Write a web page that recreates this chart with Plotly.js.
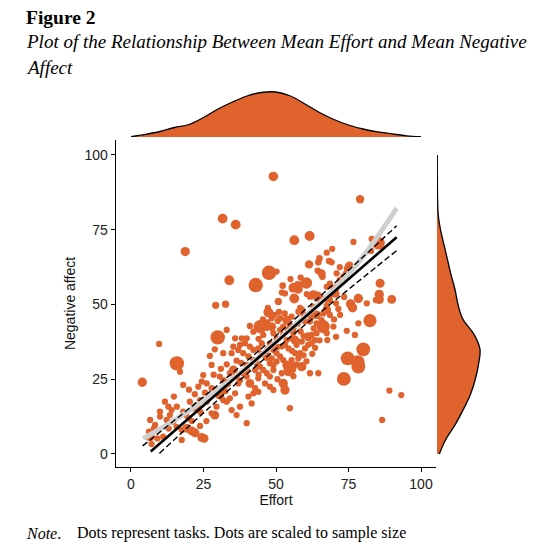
<!DOCTYPE html>
<html>
<head>
<meta charset="utf-8">
<script src="https://cdn.plot.ly/plotly-3.0.1.min.js"></script>
<style>
  html, body { margin: 0; padding: 0; background: #ffffff; }
  #chart { width: 556px; height: 548px; }
</style>
</head>
<body>
<div id="chart"></div>
<script>
// ---------- Data ----------
const effort = [49.1,79.0,31.6,36.1,18.7,56.3,61.6,76.7,83.0,85.3,82.8,69.4,67.5,65.0,64.6,61.4,68.3,69.2,72.0,75.3,
74.9,64.4,65.7,66.0,47.6,50.2,33.9,43.0,52.3,56.0,57.6,60.5,52.0,56.3,50.8,60.6,62.9,64.3,65.2,67.5,
68.4,69.8,70.9,72.0,73.2,74.1,70.7,78.4,75.7,76.4,85.9,85.6,85.6,84.5,89.9,29.2,32.6,47.2,58.3,62.9,
67.5,57.7,53.1,61.7,67.5,68.6,70.4,70.9,47.4,50.6,51.4,52.5,53.7,54.8,55.4,57.7,58.9,61.7,64.0,66.3,
68.6,61.7,64.0,65.8,66.3,67.5,67.7,59.2,60.0,48.5,49.1,50.2,51.4,52.5,53.7,53.1,54.3,55.4,56.6,57.1,
58.9,60.0,61.1,63.4,64.0,62.3,61.1,47.9,49.1,50.2,51.4,52.5,46.8,47.9,49.1,50.2,53.7,54.8,54.3,58.9,
61.7,64.6,56.6,57.7,55.4,45.6,45.1,43.9,41.0,42.2,43.4,44.5,46.8,46.8,48.5,39.9,38.2,35.9,37.6,35.3,
39.3,41.0,42.2,29.9,33.0,28.9,31.8,34.7,37.0,38.7,40.5,42.2,43.4,44.5,42.8,45.6,46.8,47.9,46.2,47.9,
49.1,52.5,53.1,54.8,15.8,16.9,27.2,27.8,24.9,18.0,23.2,24.4,26.1,27.8,29.5,30.6,31.8,33.0,34.1,35.3,
36.4,37.6,37.0,38.7,39.9,41.0,42.8,43.9,40.5,42.2,41.6,35.9,34.1,33.0,30.6,31.8,27.2,26.1,23.8,22.6,
20.3,21.5,14.8,15.8,29.5,27.8,34.7,36.4,37.6,43.9,49.1,36.4,39.9,28.9,3.9,9.7,6.6,6.2,7.9,7.1,
10.0,10.0,12.3,13.4,14.0,14.6,15.7,17.5,19.2,20.9,22.1,17.5,24.4,25.2,19.8,23.8,11.7,12.9,18.0,6.6,
8.3,9.1,11.1,39.9,86.6,89.1,93.2,73.4,74.7,80.1,78.2,78.4,82.4,78.4,77.2,74.4,72.1,67.5,68.6,65.7,
58.3,62.3,66.3,70.7,69.8,81.3,45.5,47.0,49.5,51.0,53.0,56.0,57.5,58.5,59.5,56.0,54.0,52.0,50.5,48.5,
47.0,45.0,44.0,55.5,57.0,59.5,62.5,63.5,60.5,52.0,50.5,56.0,44.0,40.0,38.0,33.0,31.0,32.5,28.5,25.5,
22.0,20.0,19.0,21.0,13.0,26.0,24.0,62.0,63.0,65.0,70.0,71.5,73.5,58.5,55.0];

const negativeAffect = [92.8,85.2,78.7,76.7,67.7,71.5,72.9,70.9,71.9,70.5,67.9,68.6,67.3,65.4,64.1,63.4,64.5,64.1,62.5,62.9,
62.0,61.3,60.4,59.3,60.6,61.0,58.1,56.5,56.3,55.6,56.2,57.2,54.0,52.0,51.0,53.5,53.2,52.8,52.0,51.7,
52.8,55.4,56.0,58.2,59.3,60.4,50.4,52.0,50.2,48.9,57.1,53.4,51.7,51.5,51.7,49.7,50.1,48.9,48.9,49.3,
49.6,55.1,53.7,52.6,55.9,57.0,53.7,60.4,47.3,44.5,45.4,42.6,44.8,43.1,45.9,47.6,48.4,47.0,46.5,47.0,
51.5,44.3,43.7,42.0,42.6,40.4,38.1,47.0,44.3,42.6,40.4,38.7,41.5,39.8,38.1,36.5,35.3,38.7,38.1,36.5,
37.6,35.3,36.5,38.1,40.4,39.8,39.2,37.0,34.8,33.7,32.6,31.4,32.6,30.3,29.8,30.9,29.8,28.7,27.5,29.2,
27.0,27.0,33.7,32.0,31.4,39.8,37.0,35.3,42.8,40.9,42.0,42.6,42.6,47.6,45.4,38.7,38.7,38.7,36.5,35.9,
37.0,35.9,34.8,39.0,41.5,35.0,33.7,33.7,34.8,33.7,32.6,31.4,30.3,29.2,28.1,28.1,27.0,25.9,23.6,22.5,
21.4,23.6,21.4,15.3,30.3,27.5,32.8,29.8,26.4,23.1,22.5,24.2,23.6,22.0,21.4,25.9,24.7,23.6,27.0,28.1,
25.9,24.7,23.6,27.0,25.9,23.6,22.0,20.8,19.2,20.3,16.9,20.3,18.6,17.5,19.7,18.0,19.2,17.5,18.0,15.8,
17.5,15.3,19.2,15.8,15.8,13.6,14.7,13.0,15.8,25.3,28.1,31.2,29.8,13.0,24.0,36.8,5.8,7.5,8.6,3.3,
14.2,12.5,11.4,13.0,14.7,10.8,9.1,8.0,8.6,7.7,7.1,4.7,5.5,5.2,11.9,9.4,17.5,15.8,14.2,11.4,
9.7,5.2,5.8,10.3,11.4,21.2,19.7,25.1,32.0,35.0,30.7,29.2,44.6,43.7,39.8,41.2,46.5,48.2,46.5,44.8,
33.7,37.0,43.7,39.2,42.6,50.4,45.0,44.0,46.5,47.5,47.0,42.0,43.5,41.0,39.5,40.5,41.5,36.0,35.8,32.0,
35.0,33.5,38.5,34.5,30.0,33.0,33.5,35.5,31.0,27.0,25.0,26.0,26.5,28.0,30.5,30.0,28.5,21.0,26.5,20.5,
20.0,21.5,13.0,11.0,8.5,11.0,14.0,45.5,42.0,38.0,45.0,48.5,52.5,59.0,58.5];

const sampleSize = [105,80,110,110,100,110,115,45,45,190,45,45,45,50,50,80,50,45,45,90,
90,50,80,50,240,45,110,240,50,110,110,150,45,110,60,45,100,100,100,50,
50,45,45,45,45,45,45,100,100,100,95,100,100,50,90,60,60,45,45,45,
45,90,45,45,45,45,90,45,110,45,45,45,90,45,45,45,45,45,90,45,
45,45,45,45,200,45,45,45,45,90,45,45,45,45,45,45,45,45,90,45,
45,45,45,45,45,45,90,45,45,45,45,45,90,45,45,45,90,200,90,100,
45,45,45,45,45,45,45,45,45,45,45,200,90,45,45,45,45,45,45,45,
45,45,45,240,45,45,45,45,45,45,45,45,45,45,45,45,45,45,45,45,
45,100,100,45,240,45,45,45,45,45,45,45,45,45,45,45,45,90,45,90,
45,45,45,45,45,90,45,45,45,45,45,45,45,45,90,45,45,45,45,90,
45,45,45,45,45,45,45,45,45,45,45,45,45,90,100,45,100,45,45,45,
45,45,45,45,45,45,45,45,90,90,90,45,90,90,45,45,45,45,45,45,
45,45,45,45,45,45,45,220,220,220,220,220,200,45,45,45,45,90,45,45,
45,45,45,45,45,45,45,45,45,45,45,45,45,45,45,45,45,45,45,45,
45,45,45,45,45,45,45,45,45,45,45,45,45,45,45,45,45,45,45,45,
45,45,45,45,45,45,45,45,45,45,45,45,45,45,45];

// Linear fit and its interval, and the smooth (grey) curve
const fitEffort = [6.8, 91.6];
const fitNegAffect = [0.8, 72.5];
const upperEffort = [4.0, 45.0, 91.6];
const upperNegAffect = [2.7, 35.3, 76.3];
const lowerEffort = [9.8, 45.0, 91.6];
const lowerNegAffect = [0.2, 31.0, 68.0];
const smoothEffort = [4.2, 12, 20, 30, 40, 50, 60, 70, 80, 91.6];
const smoothNegAffect = [5.2, 9.5, 14.5, 21.5, 29, 37.5, 46, 55, 66, 82.2];

// Marginal densities
const densityGrid = [0,5,10,15,20,25,30,35,40,45,50,55,60,65,70,75,80,85,90,95,100];
const effortDensity = [0.00015,0.0013,0.00275,0.00475,0.00625,0.00975,0.014,0.0175,0.0205,0.02225,
  0.0225,0.0205,0.0165,0.01225,0.00875,0.006,0.004,0.0026,0.0016,0.0006,0.00015];
const negAffectDensity = [0.00115,0.0045,0.00925,0.01325,0.01675,0.01915,0.02075,0.0215,0.0185,0.013,
  0.0105,0.009,0.007,0.00525,0.0035,0.00175,0.0006,0.0003,0.0002,0.00015,0.00015];

const tickValues = [0, 25, 50, 75, 100];
const tickLabels = ['0', '25', '50', '75', '100'];

// ---------- Styling ----------
const ORANGE = '#E0622D';
const W = 556, H = 548;
const px = v => v / W;          // horizontal pixel -> paper
const py = v => 1 - v / H;      // vertical pixel (from top) -> paper
const sans = 'Liberation Sans, Arial, Helvetica, sans-serif';
const serif = 'Liberation Serif, Times New Roman, serif';

const traces = [
  {
    type: 'scatter', mode: 'markers', x: effort, y: negativeAffect,
    xaxis: 'x', yaxis: 'y',
    marker: { color: ORANGE, opacity: 1, size: sampleSize, sizemode: 'area', sizeref: 2.3, line: { width: 0 } },
    hoverinfo: 'skip'
  },
  {
    type: 'scatter', mode: 'lines', x: smoothEffort, y: smoothNegAffect,
    line: { color: '#cfcfcf', width: 5, shape: 'spline' }, hoverinfo: 'skip'
  },
  {
    type: 'scatter', mode: 'lines', x: upperEffort, y: upperNegAffect,
    line: { color: '#000', width: 1.4, dash: '6px,3px', shape: 'spline' }, hoverinfo: 'skip'
  },
  {
    type: 'scatter', mode: 'lines', x: lowerEffort, y: lowerNegAffect,
    line: { color: '#000', width: 1.4, dash: '6px,3px', shape: 'spline' }, hoverinfo: 'skip'
  },
  {
    type: 'scatter', mode: 'lines', x: fitEffort, y: fitNegAffect,
    line: { color: '#000', width: 2.6 }, hoverinfo: 'skip'
  },
  {
    type: 'scatter', mode: 'lines', x: densityGrid, y: effortDensity,
    xaxis: 'x2', yaxis: 'y2', fill: 'tozeroy', fillcolor: ORANGE,
    line: { color: '#000', width: 1.3, shape: 'spline' }, hoverinfo: 'skip'
  },
  {
    type: 'scatter', mode: 'lines', x: negAffectDensity, y: densityGrid,
    xaxis: 'x3', yaxis: 'y3', fill: 'tozerox', fillcolor: ORANGE,
    line: { color: '#000', width: 1.3, shape: 'spline' }, hoverinfo: 'skip'
  }
];

const mainX = [px(116), px(436)];
const mainY = [py(467), py(140)];
const xRange = [-5.17, 105.17];
const yRange = [-4.35, 105.0];

const axisCommon = {
  tickvals: tickValues, ticktext: tickLabels, ticks: 'outside', ticklen: 4, tickwidth: 1,
  tickcolor: '#000', showline: true, linecolor: '#000', linewidth: 1.3,
  showgrid: false, zeroline: false, fixedrange: true,
  tickfont: { family: sans, size: 14, color: '#222' }
};

const layout = {
  width: W, height: H,
  margin: { l: 0, r: 0, t: 0, b: 0 },
  paper_bgcolor: '#fff', plot_bgcolor: 'rgba(0,0,0,0)',
  showlegend: false,
  xaxis: Object.assign({}, axisCommon, {
    domain: mainX, range: xRange, anchor: 'y',
    title: { text: 'Effort', font: { family: sans, size: 14, color: '#111' }, standoff: 4 }
  }),
  yaxis: Object.assign({}, axisCommon, {
    domain: mainY, range: yRange, anchor: 'x',
    title: { text: 'Negative affect', font: { family: sans, size: 14, color: '#111' }, standoff: 5 }
  }),
  xaxis2: { domain: mainX, range: xRange, anchor: 'y2', visible: false, fixedrange: true },
  yaxis2: { domain: [py(137), py(90)], range: [0, 0.0235], anchor: 'x2', visible: false, fixedrange: true },
  xaxis3: { domain: [px(437), px(485)], range: [0, 0.024], anchor: 'y3', visible: false, fixedrange: true },
  yaxis3: { domain: mainY, range: yRange, anchor: 'x3', visible: false, fixedrange: true },
  annotations: [
    { text: '<b>Figure 2</b>', x: px(24), y: py(17), xref: 'paper', yref: 'paper',
      xanchor: 'left', yanchor: 'middle', showarrow: false,
      font: { family: serif, size: 19.5, color: '#000' } },
    { text: '<i>Plot of the Relationship Between Mean Effort and Mean Negative</i>', x: px(24), y: py(42),
      xref: 'paper', yref: 'paper', xanchor: 'left', yanchor: 'middle', showarrow: false,
      font: { family: serif, size: 19, color: '#000' } },
    { text: '<i>Affect</i>', x: px(24), y: py(67), xref: 'paper', yref: 'paper',
      xanchor: 'left', yanchor: 'middle', showarrow: false,
      font: { family: serif, size: 19, color: '#000' } },
    { text: '<i>Note</i>.', x: px(24), y: py(533), xref: 'paper', yref: 'paper',
      xanchor: 'left', yanchor: 'middle', showarrow: false,
      font: { family: serif, size: 16, color: '#000' } },
    { text: 'Dots represent tasks. Dots are scaled to sample size', x: px(75), y: py(533),
      xref: 'paper', yref: 'paper', xanchor: 'left', yanchor: 'middle', showarrow: false,
      font: { family: serif, size: 16, color: '#000' } }
  ]
};

Plotly.newPlot('chart', traces, layout, { staticPlot: true, displayModeBar: false });
</script>
</body>
</html>
